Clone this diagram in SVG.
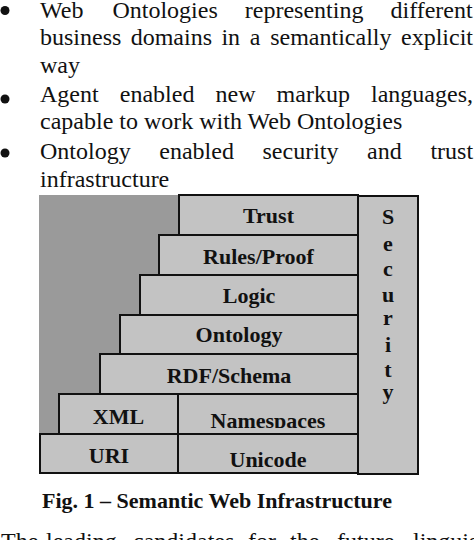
<svg xmlns="http://www.w3.org/2000/svg" width="474" height="540" viewBox="0 0 474 540">
<style>
.body{font-family:"Liberation Serif","Times New Roman",serif;font-size:24px;fill:#111}
.lbl{font-family:"Liberation Serif","Times New Roman",serif;font-size:22px;font-weight:bold;fill:#111;text-anchor:middle}
.box{fill:#c3c3c3;stroke:#111;stroke-width:2}
.cap{font-family:"Liberation Serif","Times New Roman",serif;font-size:22px;font-weight:bold;fill:#111}
</style>
<defs>
<clipPath id="clipNs"><rect x="178" y="394" width="180" height="34"/></clipPath>
<clipPath id="clipUni"><rect x="178" y="434" width="180" height="33"/></clipPath>
</defs>
<rect width="474" height="540" fill="#fff"/>
<g id="bullets-text">
<circle cx="5" cy="10.5" r="4.5" fill="#111"/>
<circle cx="5" cy="99" r="4.5" fill="#111"/>
<circle cx="5" cy="153" r="4.5" fill="#111"/>
<text class="body" y="17.5"><tspan x="40">Web</tspan><tspan x="112.4">Ontologies</tspan><tspan x="244.8">representing</tspan><tspan x="390.5">different</tspan></text>
<text class="body" y="45"><tspan x="40">business</tspan><tspan x="130.7">domains</tspan><tspan x="221.4">in</tspan><tspan x="249.8">a</tspan><tspan x="270.2">semantically</tspan><tspan x="401">explicit</tspan></text>
<text class="body" x="40" y="72.7">way</text>
<text class="body" y="101.7"><tspan x="40">Agent</tspan><tspan x="119.8">enabled</tspan><tspan x="215.5">new</tspan><tspan x="276.6">markup</tspan><tspan x="371">languages,</tspan></text>
<text class="body" x="40" y="129.3">capable to work with Web Ontologies</text>
<text class="body" y="159.3"><tspan x="40">Ontology</tspan><tspan x="159.3">enabled</tspan><tspan x="262.5">security</tspan><tspan x="367.1">and</tspan><tspan x="430.4">trust</tspan></text>
<text class="body" x="40" y="186.7">infrastructure</text>
</g>
<rect id="backdrop" x="39" y="195" width="141" height="240" fill="#9a9a9a"/>
<g id="trust"><rect class="box" x="179" y="195" width="179" height="40"/><text class="lbl" x="268.5" y="223">Trust</text></g>
<g id="rules-proof"><rect class="box" x="159" y="235" width="199" height="40"/><text class="lbl" x="258.5" y="264">Rules/Proof</text></g>
<g id="logic"><rect class="box" x="140" y="275" width="218" height="40"/><text class="lbl" x="249" y="303">Logic</text></g>
<g id="ontology"><rect class="box" x="120" y="315" width="238" height="39"/><text class="lbl" x="239" y="342">Ontology</text></g>
<g id="rdf-schema"><rect class="box" x="100" y="354" width="258" height="40"/><text class="lbl" x="229" y="383">RDF/Schema</text></g>
<g id="xml"><rect class="box" x="59" y="394" width="119" height="40"/><text class="lbl" x="118.5" y="424">XML</text></g>
<g id="namespaces"><rect class="box" x="178" y="394" width="180" height="40"/><text class="lbl" x="268" y="428" clip-path="url(#clipNs)">Namespaces</text></g>
<g id="uri"><rect class="box" x="40" y="434" width="138" height="39"/><text class="lbl" x="109" y="463">URI</text></g>
<g id="unicode"><rect class="box" x="178" y="434" width="180" height="39"/><text class="lbl" x="268" y="467" clip-path="url(#clipUni)">Unicode</text></g>
<g id="security"><rect class="box" x="358" y="196" width="60" height="278"/>
<text class="lbl" x="388"><tspan x="388" y="224">S</tspan><tspan x="388" y="251">e</tspan><tspan x="388" y="276">c</tspan><tspan x="388" y="302">u</tspan><tspan x="388" y="325">r</tspan><tspan x="388" y="352">i</tspan><tspan x="388" y="377">t</tspan><tspan x="388" y="399">y</tspan></text></g>
<g id="connectors"/>
<text class="cap" x="42" y="508">Fig. 1 – Semantic Web Infrastructure</text>
<text class="body" y="549"><tspan x="1">The</tspan><tspan x="46">leading</tspan><tspan x="133">candidates</tspan><tspan x="248">for</tspan><tspan x="290">the</tspan><tspan x="337">future</tspan><tspan x="413">linguistic</tspan></text>
</svg>
